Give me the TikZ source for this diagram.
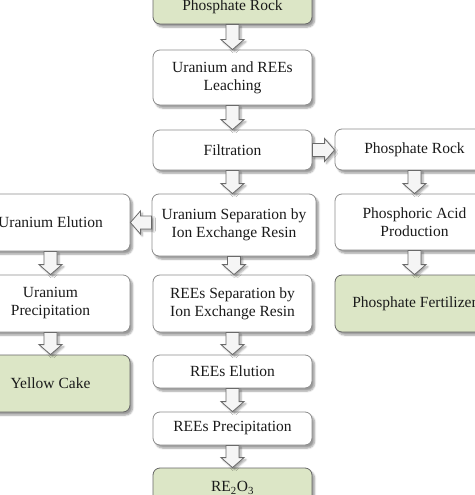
\documentclass[tikz,border=0pt]{standalone}
\usepackage{fontspec}
\setmainfont{Liberation Serif}
\usetikzlibrary{calc,shadows,shadows.blur}
\definecolor{greenbox}{HTML}{DCE6C6}
\definecolor{boxline}{HTML}{8C8C8C}
\definecolor{arrline}{HTML}{6A6A6A}
\definecolor{txt}{HTML}{1A1A1A}
\tikzset{
  box/.style={draw=boxline, line width=0.8pt, rounded corners=7pt, fill=white,
    align=center, inner sep=0pt, text=txt,
    font=\fontsize{15.5}{18}\selectfont,
    blur shadow={shadow xshift=2.5pt, shadow yshift=-3pt, shadow blur steps=6, shadow opacity=40}},
  endbox/.style={box, fill=greenbox, draw=black!60},
  blockarrow/.style={draw=arrline, line width=0.8pt, fill=black!4, line join=miter,
    blur shadow={shadow xshift=2pt, shadow yshift=-2pt, shadow blur steps=4, shadow opacity=35}}
}
\newcommand\downarr[2]{%
  \coordinate (s) at (#1.south);
  \coordinate (t) at (#1.south |- #2.north);
  \draw[blockarrow] ($(s)+(-6.5pt,0pt)$) -- ($(t)+(-6.5pt,10pt)$) -- ($(t)+(-11.5pt,10pt)$)
    -- (t) -- ($(t)+(11.5pt,10pt)$) -- ($(t)+(6.5pt,10pt)$) -- ($(s)+(6.5pt,0pt)$) -- cycle;}
\newcommand\horarr[3]{% #3 = +1 right, -1 left
  \coordinate (s) at (#1);
  \coordinate (t) at (s -| #2);
  \draw[blockarrow] ($(s)+(0pt,6.5pt)$) -- ($(t)+(-#3*10pt,6.5pt)$) -- ($(t)+(-#3*10pt,11.5pt)$)
    -- (t) -- ($(t)+(-#3*10pt,-11.5pt)$) -- ($(t)+(-#3*10pt,-6.5pt)$) -- ($(s)+(0pt,-6.5pt)$) -- cycle;}
\begin{document}
\begin{tikzpicture}[x=1pt,y=1pt]
\useasboundingbox (0,0) rectangle (474,-495);
\node[endbox, minimum width=159pt, minimum height=35pt] (pr1) at (232.5,-6.5) {Phosphate Rock};
\node[box, minimum width=159pt, minimum height=55pt] (leach) at (232.5,-77.5) {Uranium and REEs\\Leaching};
\node[box, minimum width=159pt, minimum height=40pt] (filt) at (232.5,-150) {Filtration};
\node[box, minimum width=159pt, minimum height=41pt] (prock) at (414.5,-149.5) {Phosphate Rock};
\node[box, minimum width=164pt, minimum height=62pt] (usep) at (234,-225) {Uranium Separation by\\Ion Exchange Resin};
\node[box, minimum width=159pt, minimum height=57pt] (uelu) at (50.5,-222.5) {Uranium Elution};
\node[box, minimum width=159pt, minimum height=57pt] (uprec) at (50.5,-303.5) {Uranium\\Precipitation};
\node[endbox, minimum width=159pt, minimum height=57pt] (ycake) at (50.5,-383.5) {Yellow Cake};
\node[box, minimum width=159pt, minimum height=56pt] (pap) at (414.5,-222) {Phosphoric Acid\\Production};
\node[endbox, minimum width=159pt, minimum height=57pt] (pfert) at (414.5,-303.5) {Phosphate Fertilizer};
\node[box, minimum width=159pt, minimum height=57pt] (rsep) at (232.5,-303.5) {REEs Separation by\\Ion Exchange Resin};
\node[box, minimum width=159pt, minimum height=33pt] (relu) at (232.5,-371.5) {REEs Elution};
\node[box, minimum width=159pt, minimum height=33pt] (rprec) at (232.5,-428.5) {REEs Precipitation};
\node[endbox, minimum width=159pt, minimum height=40pt] (re2o3) at (232.5,-488) {RE\textsubscript{2}O\textsubscript{3}};
\downarr{pr1}{leach}
\downarr{leach}{filt}
\downarr{filt}{usep}
\downarr{usep}{rsep}
\downarr{rsep}{relu}
\downarr{relu}{rprec}
\downarr{rprec}{re2o3}
\downarr{uelu}{uprec}
\downarr{uprec}{ycake}
\downarr{prock}{pap}
\downarr{pap}{pfert}
\horarr{filt.east}{prock.west}{1}
\horarr{$(usep.west)+(0,2.5pt)$}{uelu.east}{-1}
\end{tikzpicture}
\end{document}
